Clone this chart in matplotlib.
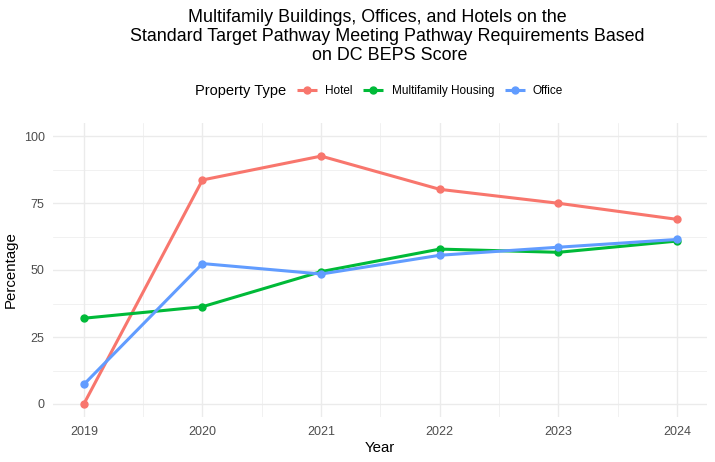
import numpy as np
import matplotlib
matplotlib.use('Agg')
from matplotlib import pyplot as plt

plt.rcParams['font.family'] = ['Liberation Sans', 'DejaVu Sans']

years = [2019, 2020, 2021, 2022, 2023, 2024]
hotel = [0.0, 83.6, 92.5, 80.1, 74.9, 68.9]
multifamily = [32.0, 36.3, 49.4, 57.8, 56.6, 60.8]
office = [7.3, 52.4, 48.5, 55.5, 58.5, 61.4]

series_names = ['Hotel', 'Multifamily Housing', 'Office']
series_values = [hotel, multifamily, office]
colors = ['#F8766D', '#00BA38', '#619CFF']

y_ticks = [0, 25, 50, 75, 100]

title_lines = ['Multifamily Buildings, Offices, and Hotels on the',
               'Standard Target Pathway Meeting Pathway Requirements Based',
               'on DC BEPS Score']

fig = plt.figure(figsize=(7.15, 4.62), dpi=100)
ax = fig.add_axes([53 / 715, 1 - 417.4 / 462, (706.7 - 53) / 715, (417.4 - 122.6) / 462])

handles = []
for name, vals, col in zip(series_names, series_values, colors):
    h, = ax.plot(years, vals, color=col, lw=2.2, marker='o', ms=5,
                 solid_capstyle='butt', label=name, zorder=3)
    handles.append(h)

ax.set_xlim(2019 - 0.26, 2024 + 0.25)
ax.set_ylim(-5, 105)
ax.set_xticks(years)
ax.set_yticks(y_ticks)
ax.set_xticks(np.array(years[:-1]) + 0.5, minor=True)
ax.set_yticks(np.array(y_ticks[:-1]) + 12.5, minor=True)
ax.grid(True, which='major', color='#EBEBEB', lw=1.0, zorder=0)
ax.grid(True, which='minor', color='#EBEBEB', lw=0.5, zorder=0)
for s in ax.spines.values():
    s.set_visible(False)
ax.tick_params(which='both', length=0)
ax.tick_params(axis='both', labelsize=9, labelcolor='#4D4D4D')
ax.tick_params(axis='x', pad=6)
ax.tick_params(axis='y', pad=6)

ax.set_xlabel('Year', fontsize=10.8, labelpad=2)
ax.set_ylabel('Percentage', fontsize=10.8, labelpad=4)

# ggplot centres each title line on its own
for line, xc, yb in zip(title_lines, [377.5, 387.5, 390], [21.7, 41, 60.3]):
    fig.text(xc / 715, 1 - yb / 462, line, ha='center', va='baseline', fontsize=12.9)

fig.text(195 / 715, 1 - 91 / 462, 'Property Type', ha='left', va='center', fontsize=10.5)
fig.legend(handles=handles, labels=series_names, ncol=3, loc='center',
           bbox_to_anchor=(430 / 715, 1 - 91 / 462), frameon=False,
           fontsize=8.5, handlelength=1.7, handletextpad=0.7, columnspacing=0.9,
           borderpad=0, borderaxespad=0)

fig.savefig('out.png', dpi=100)
